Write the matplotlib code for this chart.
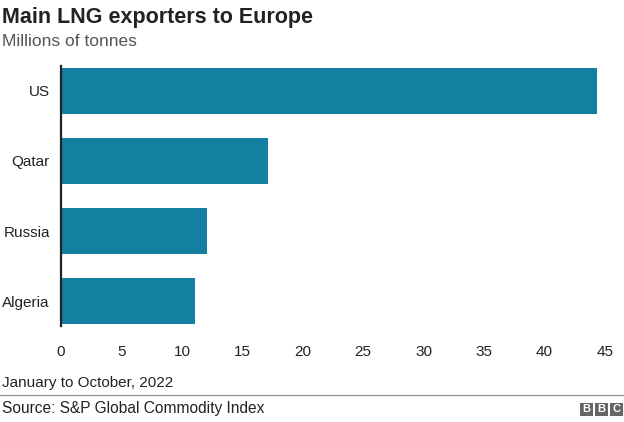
import matplotlib.pyplot as plt
from matplotlib.patches import Rectangle

plt.rcParams['font.family'] = ['Liberation Sans', 'DejaVu Sans']

countries = ['US', 'Qatar', 'Russia', 'Algeria']
tonnes = [44.3, 17.1, 12.1, 11.1]
xticks = [0, 5, 10, 15, 20, 25, 30, 35, 40, 45]

W, H = 624, 422
fig = plt.figure(figsize=(W / 100, H / 100), dpi=100)
ax = fig.add_axes([61 / W, 1 - 326 / H, 544 / W, 260 / H])

ypos = range(len(countries))
ax.barh(ypos, tonnes, height=0.66, color='#1380A1')
ax.set_ylim(3.357, -0.357)
ax.set_xlim(0, 45)
ax.set_yticks(list(ypos))
ax.set_yticklabels(countries, fontsize=11, color='#222222')
ax.set_xticks(xticks)
ax.set_xticklabels([str(t) for t in xticks], fontsize=11, color='#222222')
ax.tick_params(axis='both', length=0)
ax.tick_params(axis='x', pad=14)
ax.tick_params(axis='y', pad=8)
for s in ['top', 'right', 'bottom']:
    ax.spines[s].set_visible(False)
ax.spines['left'].set_linewidth(1.6)
ax.spines['left'].set_color('#222222')

fig.text(2 / W, 1 - 17 / H, 'Main LNG exporters to Europe', fontsize=15.5,
         fontweight='bold', color='#222222', va='center')
fig.text(2 / W, 1 - 41 / H, 'Millions of tonnes', fontsize=12.5,
         color='#555555', va='center')
fig.text(2 / W, 1 - 383 / H, 'January to October, 2022', fontsize=11,
         color='#222222', va='center')
fig.add_artist(plt.Line2D([0, 1], [1 - 395 / H, 1 - 395 / H], color='#999999',
                          linewidth=1, transform=fig.transFigure))
fig.text(2 / W, 1 - 409 / H, 'Source: S&P Global Commodity Index', fontsize=11.2,
         color='#222222', va='center')

# BBC logo
for i, letter in enumerate('BBC'):
    x0 = 580 + i * 15
    fig.add_artist(Rectangle((x0 / W, 1 - 416 / H), 13 / W, 13 / H,
                             transform=fig.transFigure, facecolor='#666666',
                             linewidth=0))
    fig.text((x0 + 6.5) / W, 1 - 409.5 / H, letter, fontsize=8,
             fontweight='bold', color='white', ha='center', va='center')

fig.savefig('out.png', dpi=100)
